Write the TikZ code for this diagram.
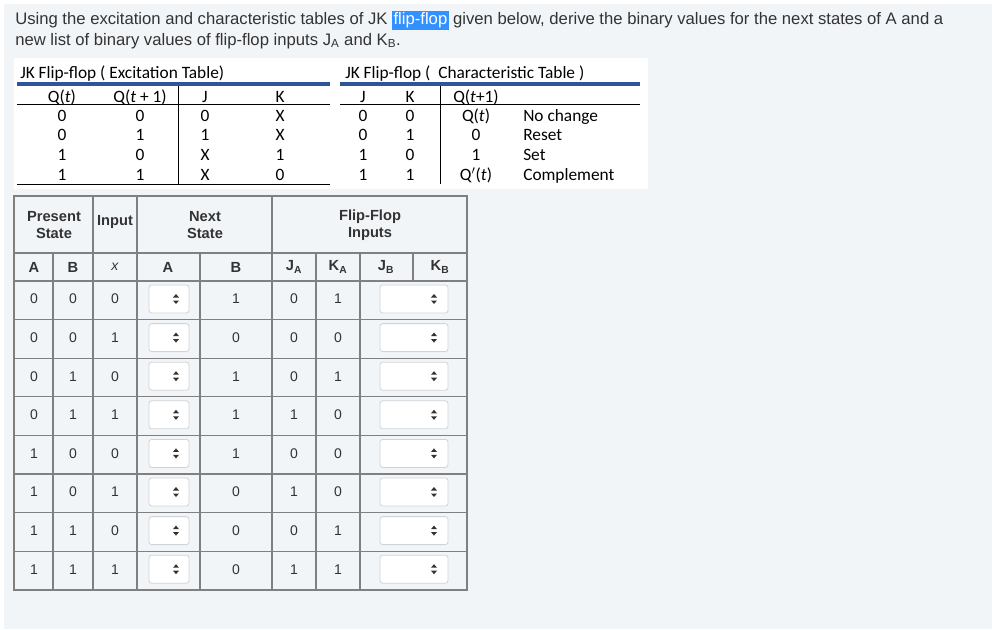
\documentclass[tikz,border=0pt]{standalone}
\usepackage{fontspec}
\setmainfont{Liberation Sans}
\newfontfamily\carl{Carlito}
\definecolor{pg}{HTML}{F2F5F8}
\definecolor{tx}{HTML}{333333}
\definecolor{hl}{HTML}{3390FF}
\definecolor{bl}{HTML}{2E5597}
\definecolor{gl}{HTML}{808080}
\definecolor{sb}{HTML}{CED4DA}
\begin{document}
\begin{tikzpicture}[x=0.75pt,y=-0.75pt,
  para/.style={anchor=base west,inner sep=0,font=\fontsize{12.5}{14}\selectfont,text=tx},
  ct/.style={inner sep=0,font=\carl\fontsize{13}{14}\selectfont,text=black},
  tc/.style={inner sep=0,font=\fontsize{10.5}{12}\selectfont,text=tx},
  th/.style={inner sep=0,font=\bfseries\fontsize{11}{13}\selectfont,text=tx,align=center},
  grid/.style={draw=gl,line width=0.9pt},
  sel/.style={draw=sb,fill=white,rounded corners=2pt,line width=0.6pt}]
\useasboundingbox (0,0) rectangle (992,629);
\fill[white] (0,0) rectangle (992,629);
\fill[pg] (4,4) rectangle (992,629);
% paragraph
\node[para] (p1) at (15,24) {Using the excitation and characteristic tables of JK};
\node[para,fill=hl,text=white,inner xsep=1pt,inner ysep=0pt,anchor=base west] (hlt) at ([xshift=3pt]p1.base east) {\strut flip-flop};
\node[para,anchor=base west] (p1b) at ([xshift=3pt]hlt.base east) {given below, derive the binary values for the next states of A and a};
\node[para] (p2) at (15,45) {new list of binary values of flip-flop inputs J\textsubscript{A} and K\textsubscript{B}.};
% image of tables
\fill[white] (14,58) rectangle (648,189);
\node[ct,anchor=base west] (t1) at (20,78) {JK Flip-flop ( Excitation Table)};
\node[ct,anchor=base west] (t2) at (345,78) {JK Flip-flop (\ \ Characteristic Table )};
\fill[bl] (17,82) rectangle (330,86);
\fill[bl] (340,82) rectangle (640,86);
\draw[black,line width=0.6pt] (17,104) -- (330,104) (17,184) -- (330,184);
\draw[black,line width=0.6pt] (178,86) -- (178,184);
\draw[black,line width=0.6pt] (340,104) -- (640,104);
\draw[black,line width=0.6pt] (440,86) -- (440,184);
\foreach \x/\t in {62/{Q(\textit{t})},140/{Q(\textit{t} + 1)},205/J,280/K}
  \node[ct,anchor=base] at (\x,102) {\t};
\foreach \y/\a/\b/\c/\d in {121/0/0/0/X,140/0/1/1/X,160/1/0/X/1,180/1/1/X/0}{
  \node[ct,anchor=base] at (62,\y) {\a};
  \node[ct,anchor=base] at (140,\y) {\b};
  \node[ct,anchor=base] at (205,\y) {\c};
  \node[ct,anchor=base] at (280,\y) {\d};}
\node[ct,anchor=base] at (363,102) {J};
\node[ct,anchor=base] at (410,102) {K};
\node[ct,anchor=base] at (476,102) {Q(\textit{t}+1)};
\foreach \y/\a/\b/\c/\d in {121/0/0/{Q(\textit{t})}/No change,140/0/1/0/Reset,160/1/0/1/Set,180/1/1/{Q$'$(\textit{t})}/Complement}{
  \node[ct,anchor=base] at (363,\y) {\a};
  \node[ct,anchor=base] at (410,\y) {\b};
  \node[ct,anchor=base] at (476,\y) {\c};
  \node[ct,anchor=base west] at (523,\y) {\d};}
% lower table
\draw[grid] (14,196) rectangle (467,590);
\draw[grid] (14,253) -- (467,253) (14,281) -- (467,281);
\foreach \i in {1,...,7} \draw[grid] (14,{281+\i*38.6}) -- (467,{281+\i*38.6});
\foreach \x in {93,137,272} \draw[grid] (\x,196) -- (\x,590);
\foreach \x in {53,200,316,360} \draw[grid] (\x,253) -- (\x,590);
\draw[grid] (413,253) -- (413,281);
\node[th] at (54,225) {Present\\State};
\node[th] at (115,222) {Input};
\node[th] at (205,225) {Next\\State};
\node[th] at (370,225) {Flip-Flop\\Inputs};
\foreach \x/\t in {34/A,73/B,168/A,236/B,294/{J\textsubscript{A}},338/{K\textsubscript{A}},386/{J\textsubscript{B}},440/{K\textsubscript{B}}}
  \node[th] at (\x,267) {\t};
\node[tc] at (115,267) {\textit{x}};
\foreach \r/\a/\b/\c/\n/\j/\k in {0/0/0/0/1/0/1,1/0/0/1/0/0/0,2/0/1/0/1/0/1,3/0/1/1/1/1/0,4/1/0/0/1/0/0,5/1/0/1/0/1/0,6/1/1/0/0/0/1,7/1/1/1/0/1/1}{
  \pgfmathsetmacro\yy{281+\r*38.6+18}
  \node[tc] at (34,\yy) {\a};
  \node[tc] at (73,\yy) {\b};
  \node[tc] at (115,\yy) {\c};
  \node[tc] at (236,\yy) {\n};
  \node[tc] at (294,\yy) {\j};
  \node[tc] at (338,\yy) {\k};
  \draw[sel] (149,\yy-14) rectangle (189,\yy+14);
  \draw[sel] (380,\yy-14) rectangle (448,\yy+14);
  \fill[tx] (176,\yy-5) -- (179,\yy-1.5) -- (173,\yy-1.5) -- cycle;
  \fill[tx] (176,\yy+5) -- (179,\yy+1.5) -- (173,\yy+1.5) -- cycle;
  \fill[tx] (434,\yy-5) -- (437,\yy-1.5) -- (431,\yy-1.5) -- cycle;
  \fill[tx] (434,\yy+5) -- (437,\yy+1.5) -- (431,\yy+1.5) -- cycle;
}
\end{tikzpicture}
\end{document}
